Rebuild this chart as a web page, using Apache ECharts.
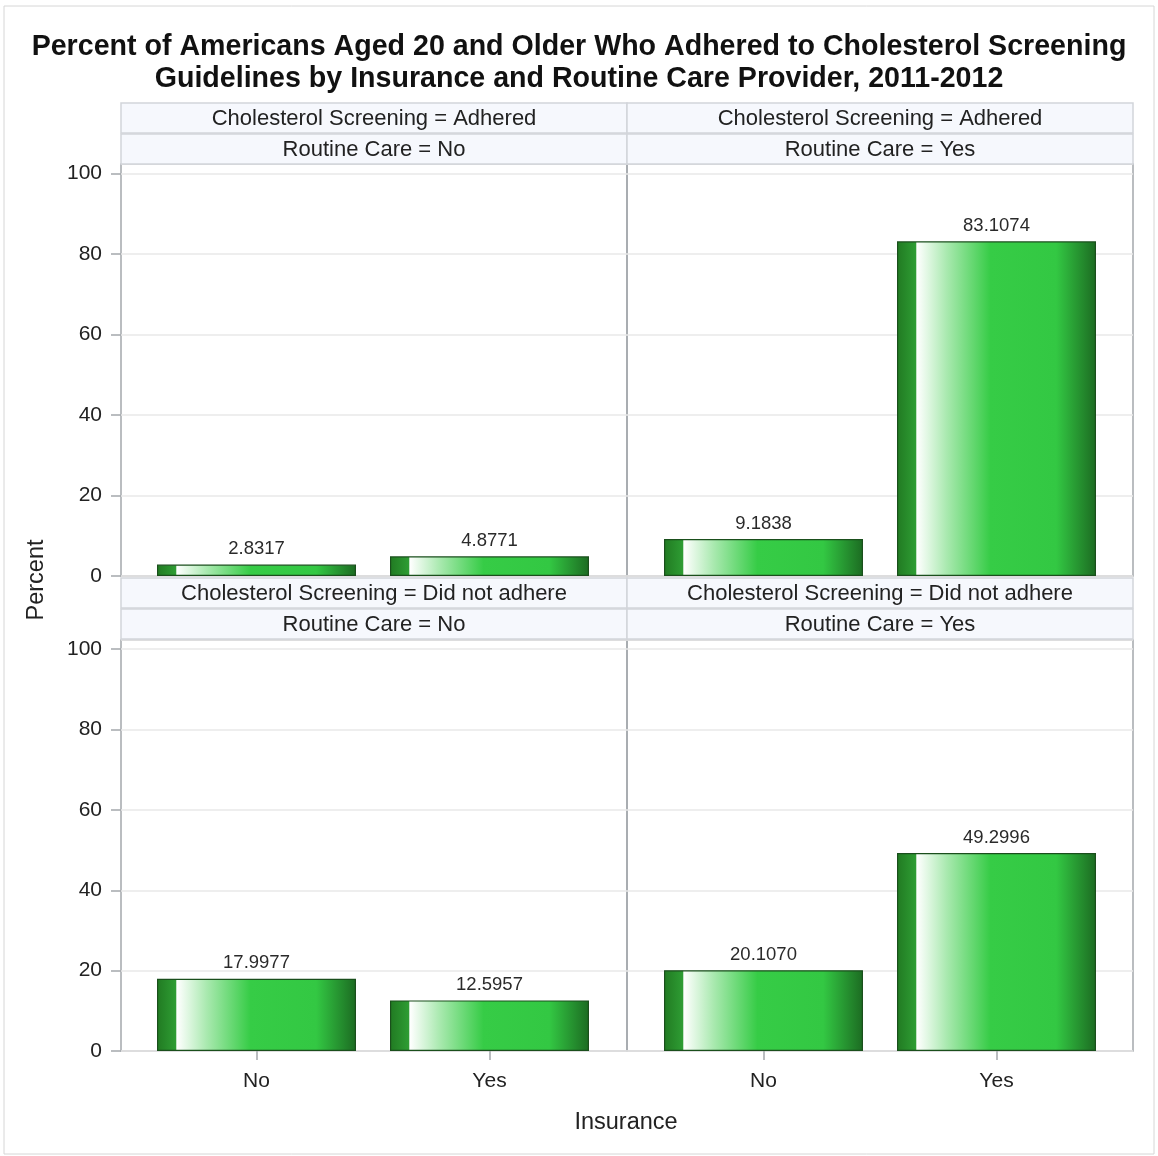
<!DOCTYPE html>
<html>
<head>
<meta charset="utf-8">
<script src="https://cdn.jsdelivr.net/npm/echarts@6/dist/echarts.min.js"></script>
<style>
html,body{margin:0;padding:0;background:#fff;}
#chart{width:1158px;height:1156px;}
</style>
</head>
<body>
<div id="chart"></div>
<script>
// ---- data ----
const insuranceCategories = ['No', 'Yes'];
const screeningLevels = ['Adhered', 'Did not adhere'];
const routineCareLevels = ['No', 'Yes'];
const adheredRoutineNo = [2.8317, 4.8771];
const adheredRoutineYes = [9.1838, 83.1074];
const notAdheredRoutineNo = [17.9977, 12.5957];
const notAdheredRoutineYes = [20.1070, 49.2996];
const yTickInterval = 20;
const yMin = 0;
const yMax = 102.3;

const panelValues = [
  [adheredRoutineNo, adheredRoutineYes],
  [notAdheredRoutineNo, notAdheredRoutineYes]
];

const FONT = '"Liberation Sans", Arial, sans-serif';
const chart = echarts.init(document.getElementById('chart'), null, {renderer: 'canvas'});

const barGradient = new echarts.graphic.LinearGradient(0, 0, 1, 0, [
  {offset: 0, color: '#217A22'},
  {offset: 0.093, color: '#2E9C33'},
  {offset: 0.1, color: '#FFFFFF'},
  {offset: 0.25, color: '#A9E9AF'},
  {offset: 0.47, color: '#36CC46'},
  {offset: 0.80, color: '#33C843'},
  {offset: 1, color: '#1C6B22'}
]);

const grids = [], xAxes = [], yAxes = [], series = [], graphics = [];
const frameLeft = [121, 627];
const dataLeft = [140, 647];
const plotTop = [164, 640];
const plotH = [412, 411];
const headerTop = [103, 578];

for (let r = 0; r < 2; r++) {
  for (let c = 0; c < 2; c++) {
    // frame grid
    const fi = grids.length;
    grids.push({left: frameLeft[c], top: plotTop[r], width: 506, height: plotH[r],
      show: true, borderColor: '#A4A8AC', borderWidth: 1.5, backgroundColor: 'transparent'});
    xAxes.push({gridIndex: fi, type: 'value', show: false});
    yAxes.push({gridIndex: fi, type: 'value', min: yMin, max: yMax, interval: yTickInterval,
      axisLine: {show: false},
      axisTick: {show: c === 0, length: 10, lineStyle: {color: '#A4A8AC', width: 1.5}},
      axisLabel: {show: c === 0, showMaxLabel: false, margin: 19, fontSize: 21, color: '#222', fontFamily: FONT},
      splitLine: {show: true, lineStyle: {color: '#E8E8E8', width: 1.5}}
    });
    // data grid
    const di = grids.length;
    grids.push({left: dataLeft[c], top: plotTop[r], width: 466, height: plotH[r]});
    xAxes.push({gridIndex: di, type: 'category', data: insuranceCategories,
      axisLine: {show: false},
      axisTick: {show: r === 1, alignWithLabel: true, length: 9, lineStyle: {color: '#A4A8AC', width: 1.5}},
      axisLabel: {show: r === 1, margin: 20, fontSize: 21, color: '#222', fontFamily: FONT}
    });
    yAxes.push({gridIndex: di, type: 'value', min: yMin, max: yMax, interval: yTickInterval, show: false});
    series.push({
      type: 'bar', xAxisIndex: di, yAxisIndex: di,
      data: panelValues[r][c], barWidth: 199,
      itemStyle: {color: barGradient, borderColor: '#1A4F1C', borderWidth: 1.2},
      label: {show: true, position: 'top', distance: 6, fontSize: 18.5, color: '#2a2a2a', fontFamily: FONT,
        formatter: p => p.value.toFixed(4)}
    });
    // header strips
    const hx = frameLeft[c];
    const texts = ['Cholesterol Screening = ' + screeningLevels[r], 'Routine Care = ' + routineCareLevels[c]];
    for (let k = 0; k < 2; k++) {
      const y0 = headerTop[r] + k * 31;
      graphics.push({type: 'rect', shape: {x: hx, y: y0, width: 506, height: 30},
        style: {fill: '#F6F8FD', stroke: '#D2D5DA', lineWidth: 1.5}, z: 1});
      graphics.push({type: 'text', x: hx + 253, y: y0 + 16,
        style: {text: texts[k], fontSize: 22, fill: '#222', fontFamily: FONT, align: 'center', verticalAlign: 'middle'}, z: 2});
    }
  }
}

graphics.push({type: 'rect', shape: {x: 4, y: 6, width: 1150, height: 1148},
  style: {fill: 'none', stroke: '#D6D6D6', lineWidth: 1}, z: 0, silent: true});
graphics.push({type: 'text', x: 37, y: 580, rotation: Math.PI / 2,
  style: {text: 'Percent', fontSize: 23.5, fill: '#222', fontFamily: FONT, align: 'center', verticalAlign: 'middle'}});
graphics.push({type: 'text', x: 626, y: 1123,
  style: {text: 'Insurance', fontSize: 23.5, fill: '#222', fontFamily: FONT, align: 'center', verticalAlign: 'middle'}});

chart.setOption({
  animation: false,
  backgroundColor: '#fff',
  title: {
    text: 'Percent of Americans Aged 20 and Older Who Adhered to Cholesterol Screening\nGuidelines by Insurance and Routine Care Provider, 2011-2012',
    left: 'center', top: 26,
    textStyle: {fontSize: 28.6, fontWeight: 'bold', color: '#111', lineHeight: 32, fontFamily: FONT}
  },
  grid: grids, xAxis: xAxes, yAxis: yAxes, series: series, graphic: graphics
});
</script>
</body>
</html>
